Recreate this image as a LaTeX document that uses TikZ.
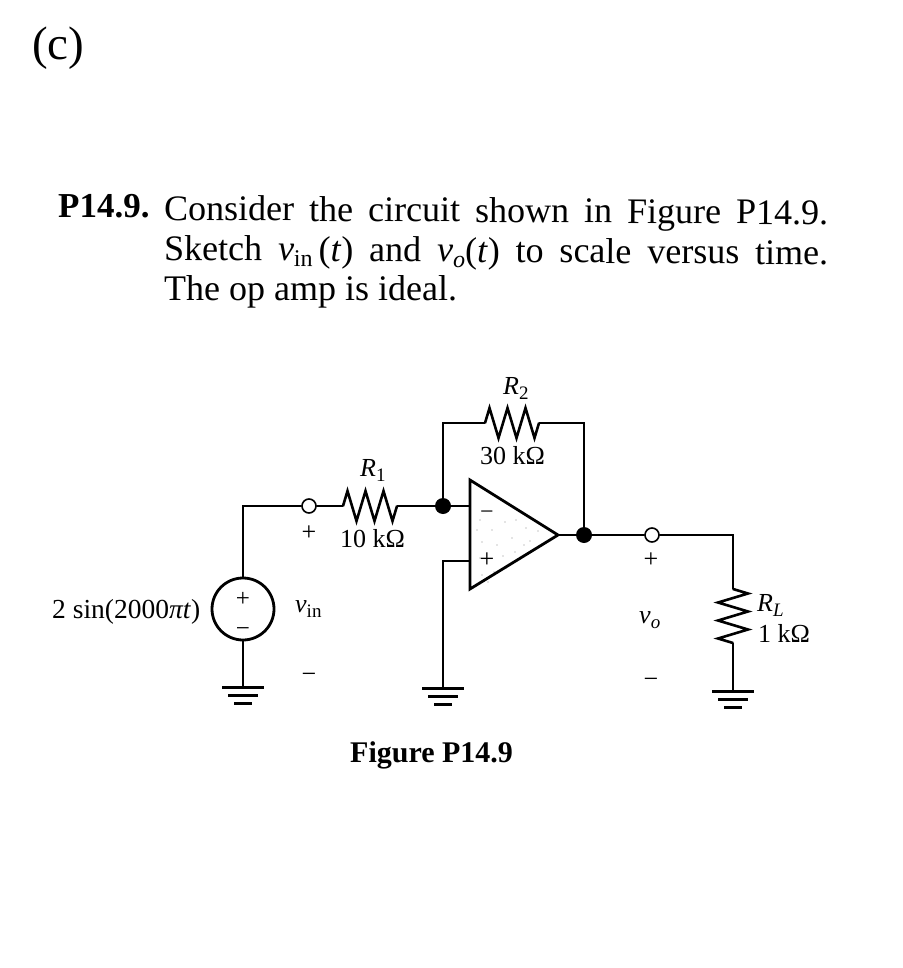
\documentclass[tikz,border=0pt]{standalone}
\usepackage{fontspec}
\setmainfont{Liberation Serif}
\newcommand{\fsz}[1]{\fontsize{#1}{#1}\selectfont}
\newcommand{\subl}[1]{\raisebox{-0.22em}{\fontsize{19}{19}\selectfont #1}}
\newcommand{\subb}[1]{\raisebox{-0.16em}{\fontsize{24}{24}\selectfont #1}}
\tikzset{
  x=1pt,y=-1pt,
  wire/.style={line width=1.7pt,line cap=round,line join=miter},
  thick wire/.style={line width=2.6pt,line join=miter},
  opencirc/.style={circle,draw,line width=1.6pt,fill=white,minimum size=14pt,inner sep=0pt},
  dotnode/.style={circle,fill=black,minimum size=16pt,inner sep=0pt},
  source/.style={circle,draw,line width=2.8pt,minimum size=62pt,inner sep=0pt},
  lab/.style={anchor=base west,inner sep=0pt,font=\fsz{26}},
  sign/.style={inner sep=0pt,font=\fsz{26}},
  body/.style={anchor=base west,inner sep=0pt,font=\fsz{36}},
  pics/res/.style={code={
    \draw[thick wire] (0,0) -- (4.5,-15) -- (13.5,15) -- (22.5,-15) -- (31.5,15) -- (40.5,-15) -- (49.5,15) -- (54,0);
  }},
  pics/gnd/.style={code={
    \draw[line width=3pt] (-21,0) -- (21,0) (-15,8) -- (15,8) (-9,16) -- (9,16);
  }}
}
\begin{document}
\begin{tikzpicture}
\useasboundingbox (0,0) rectangle (902,968);
% text
\node[body,font=\fsz{47}] (part) at (32,60) {(c)};
\node[body,font=\bfseries\fsz{35}] (pnum) at (58,218) {P14.9.};
\node[body,rotate=-0.4] (l1) at (164,220) {\makebox[664pt][s]{Consider the circuit shown in Figure P14.9.}};
\node[body,rotate=-0.4] (l2) at (164,260) {\makebox[664pt][s]{Sketch \textit{v}\subb{in}\,(\textit{t}) and \textit{v}\subb{\textit{o}}(\textit{t}) to scale versus time.}};
\node[body] (l3) at (164,300) {The op amp is ideal.};
\node[body,font=\bfseries\fsz{30}] (cap) at (350,762) {Figure P14.9};
% stipple
\foreach \p in {(480,520),(492,530),(505,522),(516,520),(526,528),(538,531),(482,542),(497,545),(512,538),(524,545),(480,558),(503,556),(515,552),(530,541),(482,575),(494,572),(477,530),(506,568),(488,582)}
  \fill[black!45] \p circle (0.6pt);
% op amp
\coordinate (opa) at (470,480);
\coordinate (opb) at (470,589);
\coordinate (opc) at (558,535);
\draw[line width=2.8pt,line join=miter] (opa) -- (opb) -- (opc) -- cycle;
\coordinate (inm) at (470,506);
\coordinate (inp) at (470,561);
\node[sign,font=\fsz{24}] (opm) at (487,515) {−};
\node[sign,font=\fsz{26}] (opp) at (487,560) {+};
% nodes
\node[source] (src) at (243,609) {};
\node[sign,font=\fsz{25}] (sp) at (243,599) {+};
\node[sign,font=\fsz{25}] (sm) at (243,632) {−};
\node[opencirc] (t1) at (309,506) {};
\node[opencirc] (t2) at (652,535) {};
\node[dotnode] (n1) at (443,506) {};
\node[dotnode] (n2) at (584,535) {};
\coordinate (c1) at (243,506);
\coordinate (r1a) at (343,506);
\coordinate (r1b) at (397,506);
\coordinate (r2a) at (485,423);
\coordinate (r2b) at (539,423);
\coordinate (t2a) at (443,423);
\coordinate (t2b) at (584,423);
\coordinate (rla) at (733,589);
\coordinate (rlb) at (733,643);
\coordinate (c2) at (733,535);
\coordinate (c3) at (443,561);
\coordinate (g1) at (243,687);
\coordinate (g2) at (443,688);
\coordinate (g3) at (733,691);
% resistors
\pic at (r1a) {res};
\pic at (r2a) {res};
\pic[rotate=-90] at (rla) {res};
% grounds
\pic at (g1) {gnd};
\pic at (g2) {gnd};
\pic at (g3) {gnd};
% wires
\draw[wire] (src) -- (c1) -- (t1);
\draw[wire] (t1) -- (r1a);
\draw[wire] (r1b) -- (n1);
\draw[wire] (n1) -- (inm);
\draw[wire] (n1) -- (t2a) -- (r2a);
\draw[wire] (r2b) -- (t2b) -- (n2);
\draw[wire] (opc) -- (n2);
\draw[wire] (n2) -- (t2);
\draw[wire] (t2) -- (c2) -- (rla);
\draw[wire] (rlb) -- (g3);
\draw[wire] (src) -- (g1);
\draw[wire] (inp) -- (c3) -- (g2);
% labels
\node[lab] (r1n) at (360,476) {\textit{R}\subl{1}};
\node[lab] (r1v) at (340,547) {10 kΩ};
\node[lab] (r2n) at (503,394) {\textit{R}\subl{2}};
\node[lab] (r2v) at (480,464) {30 kΩ};
\node[lab] (rln) at (757,611) {\textit{R}\subl{\textit{L}}};
\node[lab] (rlv) at (758,642) {1 kΩ};
\node[lab,font=\fsz{27.5}] (vs) at (52,618) {2 sin(2000\textit{πt})};
\node[lab] (vin) at (295,612) {\textit{v}\subl{in}};
\node[lab] (vo) at (639,623) {\textit{v}\subl{\textit{o}}};
\node[sign] (ip) at (309,533) {+};
\node[sign] (im) at (309,678) {−};
\node[sign] (op) at (651,560) {+};
\node[sign] (om) at (651,683) {−};
\end{tikzpicture}
\end{document}
